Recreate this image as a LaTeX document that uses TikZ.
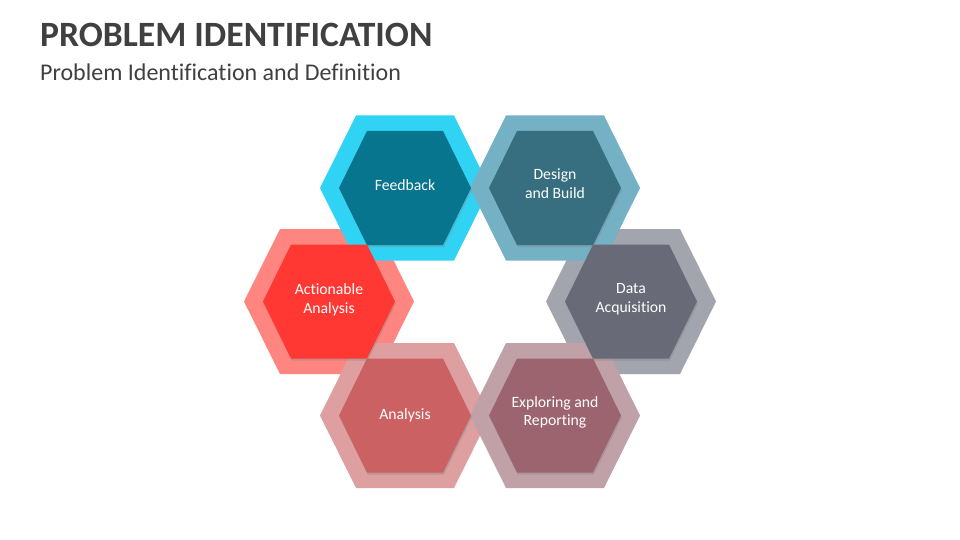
\documentclass[tikz,border=0pt]{standalone}
\usepackage{fontspec}
\setmainfont{Carlito}[Ligatures={NoCommon}]
\usetikzlibrary{shadows,calc}
\definecolor{titlegray}{HTML}{404040}
\definecolor{fbOut}{HTML}{31D3F5}\definecolor{fbIn}{HTML}{08758F}
\definecolor{dbOut}{HTML}{75B1C4}\definecolor{dbIn}{HTML}{386F80}
\definecolor{daOut}{HTML}{A2A5AE}\definecolor{daIn}{HTML}{686A78}
\definecolor{erOut}{HTML}{C1A1A8}\definecolor{erIn}{HTML}{9C646E}
\definecolor{anOut}{HTML}{DE9FA1}\definecolor{anIn}{HTML}{CB6163}
\definecolor{aaOut}{HTML}{FF8680}\definecolor{aaIn}{HTML}{FF3834}
\tikzset{
  outerhex/.style={fill=#1, draw=none},
  innerhex/.style={fill=#1, draw=none, drop shadow={opacity=0.35, shadow xshift=0.8pt, shadow yshift=-2.2pt}},
  hexlabel/.style={text=white, align=center, font=\fontsize{15.7}{18.7}\selectfont, inner sep=0pt},
}
\newcommand{\outerHex}[2]{\path[outerhex=#2] ($(#1)+(-85,0)$) -- ++(36,-72.5) -- ++(98,0) -- ++(36,72.5) -- ++(-36,72.5) -- ++(-98,0) -- cycle;}
\newcommand{\innerHex}[2]{\path[innerhex=#2] ($(#1)+(-66,0)$) -- ++(28,-57) -- ++(76,0) -- ++(28,57) -- ++(-28,57) -- ++(-76,0) -- cycle;}
\begin{document}
\begin{tikzpicture}[x=1pt,y=-1pt]
\useasboundingbox (0,0) rectangle (960,540);
\fill[white] (0,0) rectangle (960,540);
\node[anchor=base west, inner sep=0pt, text=titlegray, font=\fontsize{35.6}{40}\selectfont\bfseries] (title) at (40,46.5) {PROBLEM IDENTIFICATION};
\node[anchor=base west, inner sep=0pt, text=titlegray, font=\fontsize{24}{28}\selectfont] (subtitle) at (40,80.5) {Problem Identification and Definition};
\coordinate (cFB) at (405,188);
\coordinate (cDB) at (555,188);
\coordinate (cDA) at (631,301.5);
\coordinate (cER) at (555,415.5);
\coordinate (cAN) at (405,415.5);
\coordinate (cAA) at (329,301.5);
% outer hexagons
\outerHex{cAA}{aaOut}
\outerHex{cDA}{daOut}
\outerHex{cFB}{fbOut}
\outerHex{cDB}{dbOut}
\outerHex{cAN}{anOut}
\outerHex{cER}{erOut}
% inner hexagons
\innerHex{cFB}{fbIn}
\innerHex{cDB}{dbIn}
\innerHex{cDA}{daIn}
\innerHex{cER}{erIn}
\innerHex{cAN}{anIn}
\innerHex{cAA}{aaIn}
% labels
\node[hexlabel] (lFB) at ($(cFB)+(0,-3)$) {Feedback};
\node[hexlabel] (lDB) at ($(cDB)+(0,-4)$) {Design\\and Build};
\node[hexlabel] (lDA) at ($(cDA)+(0,-2)$) {Data\\Acquisition};
\node[hexlabel] (lER) at ($(cER)+(0,-3)$) {Exploring and\\Reporting};
\node[hexlabel] (lAN) at ($(cAN)+(0,0)$) {Analysis};
\node[hexlabel] (lAA) at ($(cAA)+(0,-2)$) {Actionable\\Analysis};
\end{tikzpicture}
\end{document}
